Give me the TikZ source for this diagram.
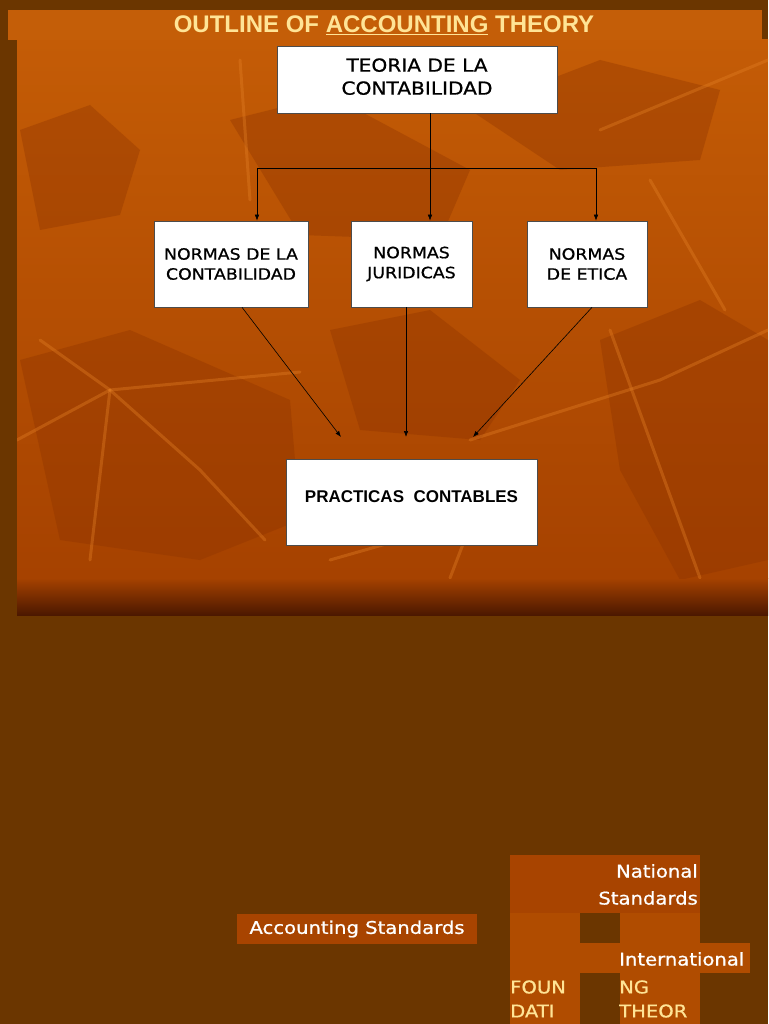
\documentclass[tikz,border=0pt]{standalone}
\usepackage{fontspec}
\setmainfont{Liberation Sans}
\newfontfamily\comicfont[FakeStretch=1.12, FakeBold=0.8]{DejaVu Sans}
\usetikzlibrary{arrows.meta}
\definecolor{darkbrown}{RGB}{107,54,0}
\definecolor{slidetop}{RGB}{196,92,6}
\definecolor{slidemid}{RGB}{166,66,0}
\definecolor{slidedark}{RGB}{76,24,0}
\definecolor{titleband}{RGB}{196,94,8}
\definecolor{titleyellow}{RGB}{255,228,150}
\definecolor{blockdark}{RGB}{168,68,0}
\definecolor{blocklight}{RGB}{176,76,0}
\definecolor{leafdark}{RGB}{140,50,0}
\definecolor{leaflight}{RGB}{225,125,35}

\begin{document}
\begin{tikzpicture}[x=1pt, y=-1pt,
    box/.style={draw=black!70, fill=white, line width=0.6pt, inner sep=0pt, align=center,
                font=\comicfont\fontsize{15.5}{20}\selectfont},
    arrow/.style={-{Latex[length=6pt,width=4.5pt]}, line width=0.6pt},
    leaf/.style={fill=leafdark, opacity=0.35},
    vein/.style={draw=leaflight, opacity=0.4, line width=3pt, line cap=round},
    blocklabel/.style={inner sep=0pt, font=\comicfont\fontsize{17.5}{27}\selectfont}
]
    % page and slide
    \fill[darkbrown] (0,0) rectangle (768,1024);
    \useasboundingbox (0,0) rectangle (768,1024);
    \clip (0,0) rectangle (768,1024);
    \shade[top color=slidetop, bottom color=slidemid] (17,40) rectangle (768,578);
    \shade[top color=slidemid, bottom color=slidedark] (17,578) rectangle (768,615);

    % leaves in the background
    \begin{scope}
        \clip (17,40) rectangle (768,578);
        \fill[leaf] (20,130) -- (90,105) -- (140,150) -- (120,215) -- (40,230) -- cycle;
        \fill[leaf] (230,120) -- (330,95) -- (470,170) -- (440,240) -- (300,235) -- cycle;
        \fill[leaf] (20,360) -- (130,330) -- (290,400) -- (300,520) -- (200,560) -- (60,540) -- cycle;
        \fill[leaf] (600,340) -- (700,300) -- (768,340) -- (768,560) -- (680,580) -- (620,470) -- cycle;
        \fill[leaf] (470,110) -- (600,60) -- (720,90) -- (700,160) -- (560,170) -- cycle;
        \fill[leaf] (330,330) -- (430,310) -- (520,380) -- (480,440) -- (360,430) -- cycle;
        \draw[vein] (40,340) -- (110,390) -- (200,470) -- (265,540);
        \draw[vein] (110,390) -- (90,560);
        \draw[vein] (110,390) -- (300,372);
        \draw[vein] (17,440) -- (110,390);
        \draw[vein] (650,180) -- (725,310);
        \draw[vein] (610,330) -- (700,578);
        \draw[vein] (470,440) -- (660,380) -- (768,330);
        \draw[vein] (600,130) -- (768,60);
        \draw[vein] (240,60) -- (250,200);
        \draw[vein] (330,560) -- (470,520);
        \draw[vein] (450,578) -- (480,500);
    \end{scope}

    % title
    \fill[darkbrown] (0,0) rectangle (768,10);
    \fill[titleband] (8,10) rectangle (762,40);
    \node[text=titleyellow, font=\bfseries\fontsize{24}{26}\selectfont] (title) at (384,25)
        {OUTLINE OF \underline{ACCOUNTING} THEORY};

    % diagram
    \node[box, minimum width=280pt, minimum height=67pt, text depth=6pt,
          font=\comicfont\fontsize{18}{23}\selectfont]
        (teoria) at (417,79.5) {TEORIA DE LA\\CONTABILIDAD};
    \node[box, minimum width=154pt, minimum height=86pt] (ndlc) at (231,264) {NORMAS DE LA\\CONTABILIDAD};
    \node[box, minimum width=121pt, minimum height=86pt] (nj) at (411.5,264) {NORMAS\\JURIDICAS};
    \node[box, minimum width=120pt, minimum height=86pt] (ne) at (587,264) {NORMAS\\DE ETICA};
    \node[box, minimum width=251pt, minimum height=86pt, text depth=10pt,
          font=\bfseries\fontsize{17}{20}\selectfont]
        (pc) at (411.5,502) {PRACTICAS\ \ CONTABLES};

    \coordinate (split) at (430,168);
    \coordinate (splitL) at (257,168);
    \coordinate (splitR) at (596,168);
    \draw[line width=0.6pt] (teoria.south -| split) -- (split);
    \draw[line width=0.6pt] (splitL) -- (splitR);
    \draw[arrow] (splitL) -- (splitL |- ndlc.north);
    \draw[arrow] (split) -- (split |- nj.north);
    \draw[arrow] (splitR) -- (splitR |- ne.north);

    \coordinate (inL) at (341,437);
    \coordinate (inM) at (406,437);
    \coordinate (inR) at (473,437);
    \draw[arrow] ([xshift=11pt]ndlc.south) -- (inL);
    \draw[arrow] ([xshift=-5.5pt]nj.south) -- (inM);
    \draw[arrow] ([xshift=5pt]ne.south) -- (inR);

    % lower part
    \node[fill=blockdark, text=white, minimum width=240pt, minimum height=30pt, inner sep=0pt,
          font=\comicfont\fontsize{17.5}{20}\selectfont] (accstd) at (357,929) {Accounting Standards};

    \fill[blockdark] (510,855) rectangle (700,913);
    \fill[blocklight] (510,913) rectangle (580,943);
    \fill[blocklight] (620,913) rectangle (700,943);
    \fill[blocklight] (510,943) rectangle (750,973);
    \fill[blocklight] (510,973) rectangle (580,1024);
    \fill[blocklight] (620,973) rectangle (700,1024);
    \node[blocklabel, text=white, anchor=east] (natl) at (698,871) {National};
    \node[blocklabel, text=white, anchor=east] (natstd) at (698,898) {Standards};
    \node[blocklabel, text=white, anchor=west] (intl) at (619,959) {International};
    \node[blocklabel, text=titleyellow, anchor=west] (foun) at (510,987) {FOUN};
    \node[blocklabel, text=titleyellow, anchor=west] (dati) at (510,1011) {DATI};
    \node[blocklabel, text=titleyellow, anchor=west] (ng) at (619,987) {NG};
    \node[blocklabel, text=titleyellow, anchor=west] (theor) at (619,1011) {THEOR};
\end{tikzpicture}
\end{document}
